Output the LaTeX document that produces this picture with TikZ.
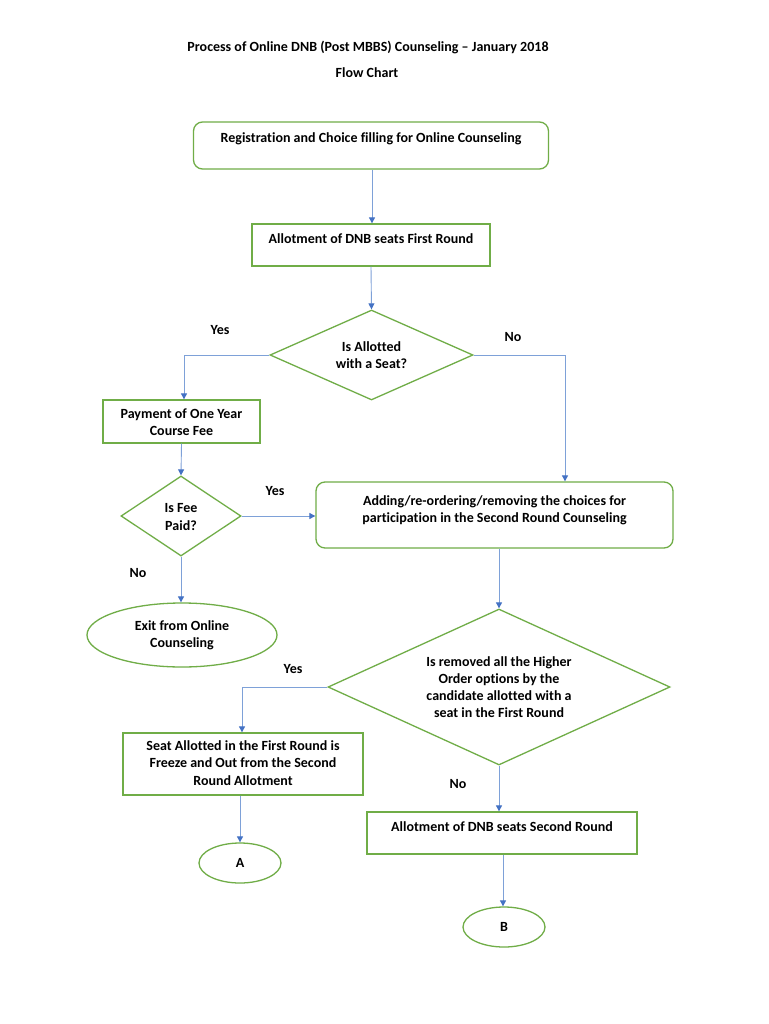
\documentclass[tikz,border=0pt]{standalone}
\usepackage{fontspec}
\setmainfont{Carlito}[Ligatures=NoCommon]
\usetikzlibrary{shapes.geometric,arrows.meta}
\definecolor{gborder}{HTML}{70AD47}
\definecolor{bline}{HTML}{7EA1D8}
\definecolor{btip}{HTML}{4472C4}
\begin{document}
\begin{tikzpicture}[x=1pt,y=-1pt,
  txt/.style={font=\bfseries\fontsize{14}{17.2}\selectfont, align=center, inner sep=0pt},
  rbox/.style={draw=gborder, line width=1.3pt, rounded corners=9pt, inner sep=0pt},
  sbox/.style={draw=gborder, line width=1.3pt, inner sep=0pt},
  dia/.style={draw=gborder, line width=1.3pt, diamond, inner sep=0pt},
  ell/.style={draw=gborder, line width=1.3pt, ellipse, inner sep=0pt},
  arr/.style={draw=bline, line width=0.9pt, -{Triangle[width=6pt,length=6pt,color=btip]}},
  lbl/.style={font=\bfseries\fontsize{14}{16}\selectfont, inner sep=0pt}
]
\useasboundingbox (0,0) rectangle (768,1024);
\fill[white] (0,0) rectangle (768,1024);

\node[txt] (title) at (368,47) {Process of Online DNB (Post MBBS) Counseling -- January 2018};
\node[txt] (sub) at (367,73) {Flow Chart};

% boxes
\node[rbox, minimum width=355, minimum height=47] (b1) at (371,145.5) {};
\node[txt] (t1) at (371,139) {Registration and Choice filling for Online Counseling};

\node[sbox, minimum width=238, minimum height=42] (b2) at (371,245) {};
\node[txt] (t2) at (371,239) {Allotment of DNB seats First Round};

\node[dia, minimum width=203, minimum height=90] (d1) at (371.5,355) {};
\node[txt] (td1) at (371.5,355.5) {Is Allotted\\with a Seat?};

\node[sbox, minimum width=157, minimum height=43] (b3) at (181.5,421.5) {};
\node[txt] (t3) at (181.5,422) {Payment of One Year\\Course Fee};

\node[dia, minimum width=120, minimum height=80] (d2) at (181,516) {};
\node[txt] (td2) at (181,517) {Is Fee\\Paid?};

\node[rbox, minimum width=357, minimum height=66] (b4) at (494.5,515) {};
\node[txt] (t4) at (494.5,510.5) {Adding/re-ordering/removing the choices for\\participation in the Second Round Counseling};

\node[ell, minimum width=190, minimum height=64] (e1) at (182,635) {};
\node[txt] (te1) at (182,635) {Exit from Online\\Counseling};

\node[dia, minimum width=342, minimum height=156] (d3) at (499,687) {};
\node[txt] (td3) at (499,687) {Is removed all the Higher\\Order options by the\\candidate allotted with a\\seat in the First Round};

\node[sbox, minimum width=240, minimum height=62] (b5) at (243,764) {};
\node[txt] (t5) at (243,763) {Seat Allotted in the First Round is\\Freeze and Out from the Second\\Round Allotment};

\node[ell, minimum width=82, minimum height=40] (eA) at (240,863) {};
\node[txt] (tA) at (240,863) {A};

\node[sbox, minimum width=270, minimum height=42] (b6) at (502,833) {};
\node[txt] (t6) at (502,827) {Allotment of DNB seats Second Round};

\node[ell, minimum width=82, minimum height=40] (eB) at (504,927) {};
\node[txt] (tB) at (504,927) {B};

% connectors
\draw[arr] (b1.south -| 372,0) -- (b2.north -| 372,0);
\draw[arr] (b2.south -| 371,0) -- (d1.north);
\draw[arr] (d1.west) -| (b3.north -| 184,0);
\draw[arr] (d1.east) -| (b4.north -| 565,0);
\draw[arr] (b3.south -| 181.5,0) -- (d2.north);
\draw[arr] (d2.east) -- (b4.west |- d2.east);
\draw[arr] (d2.south) -- (e1.north -| d2.south);
\draw[arr] (b4.south -| 499,0) -- (d3.north);
\draw[arr] (d3.west) -| (b5.north -| 242,0);
\draw[arr] (d3.south) -- (b6.north -| d3.south);
\draw[arr] (b5.south -| 240,0) -- (eA.north);
\draw[arr] (b6.south -| 503,0) -- (eB.north -| 503,0);

% labels
\node[lbl] (yes1) at (220,330) {Yes};
\node[lbl] (no1) at (513,337) {No};
\node[lbl] (yes2) at (275,491) {Yes};
\node[lbl] (no2) at (138,573) {No};
\node[lbl] (yes3) at (293,669) {Yes};
\node[lbl] (no3) at (458,784) {No};
\end{tikzpicture}
\end{document}
